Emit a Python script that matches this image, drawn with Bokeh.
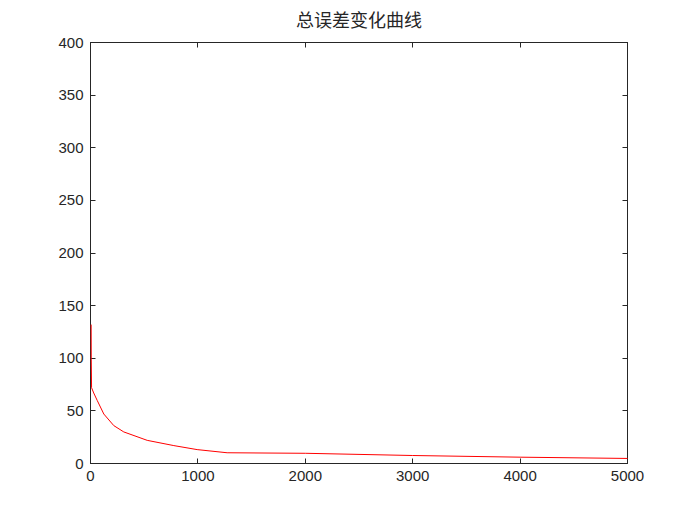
from bokeh.plotting import figure
from bokeh.models import LinearAxis, FixedTicker, CustomLabelingPolicy, Title
from bokeh.embed import file_html
from bokeh.resources import INLINE

# 迭代次数与总误差
epochs = [6, 7, 10, 30, 62, 124, 217, 310, 528, 776, 993, 1272, 2000, 3000, 4000, 5000]
total_error = [132, 100, 72, 67, 60, 47, 36, 30, 22, 17, 13.2, 10.2, 9.7, 7.6, 6.0, 4.8]

x_ticks = [0, 1000, 2000, 3000, 4000, 5000]
y_ticks = [0, 50, 100, 150, 200, 250, 300, 350, 400]
title_text = "总误差变化曲线"

axis_color = "#262626"
tick_font = "Liberation Sans"

p = figure(width=686, height=513, x_range=(0, 5000), y_range=(0, 400),
           output_backend="svg", toolbar_location=None,
           min_border_left=90, min_border_right=59,
           min_border_top=40, min_border_bottom=50)
# 最外层标题只用来在顶部留白
p.title.text = " "
p.title.text_font_size = "1px"
p.title.standoff = 0

p.grid.visible = False
p.outline_line_color = axis_color
p.outline_line_width = 1

for ax in p.xaxis + p.yaxis:
    ax.axis_line_color = axis_color
    ax.major_tick_line_color = axis_color
    ax.major_tick_in = 5
    ax.major_tick_out = 0
    ax.minor_tick_line_color = None
    ax.major_label_text_font = tick_font
    ax.major_label_text_font_size = "15px"
    ax.major_label_text_color = axis_color
p.xaxis.ticker = FixedTicker(ticks=x_ticks)
p.yaxis.ticker = FixedTicker(ticks=y_ticks)
p.xaxis.major_label_standoff = 7
p.yaxis.major_label_standoff = 7

# 上方和右侧的内向刻度（不显示标签）
no_labels = CustomLabelingPolicy(code="return new Set()")
top = LinearAxis(ticker=FixedTicker(ticks=x_ticks), major_label_policy=no_labels)
right = LinearAxis(ticker=FixedTicker(ticks=y_ticks), major_label_policy=no_labels)
for ax in (top, right):
    ax.axis_line_color = axis_color
    ax.major_tick_line_color = axis_color
    ax.major_tick_in = 5
    ax.major_tick_out = 0
    ax.minor_tick_line_color = None
    ax.major_label_standoff = 0
p.add_layout(top, "above")
p.add_layout(right, "right")

main_title = Title(text=title_text, align="center", text_font="Noto Sans CJK SC",
                   text_font_style="normal", text_font_size="18px",
                   text_color="#262626", standoff=0)
p.add_layout(main_title, "above")

line = p.line(epochs, total_error, line_color="red", line_width=1)
line.level = "overlay"

open("out.html", "w").write(file_html(p, INLINE))
